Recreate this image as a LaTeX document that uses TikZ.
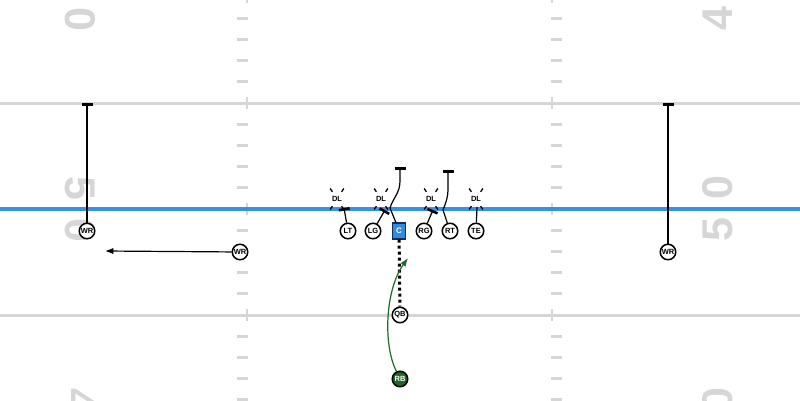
\documentclass[tikz,border=0pt]{standalone}
\usepackage{fontspec}
\setmainfont{Liberation Sans}
\usetikzlibrary{arrows.meta,positioning}
\definecolor{field}{RGB}{214,214,214}
\definecolor{scrim}{RGB}{52,146,235}
\definecolor{cblue}{RGB}{45,140,230}
\definecolor{navy}{RGB}{20,45,90}
\definecolor{rbgreen}{RGB}{30,105,40}
\tikzset{
  player/.style={circle,draw,line width=1.5pt,fill=white,inner sep=0pt,minimum size=15.5pt,
    font=\fontsize{7.5}{7.5}\selectfont\bfseries},
  snapper/.style={rectangle,draw=navy,line width=1.2pt,fill=cblue,text=white,inner sep=0pt,
    minimum width=12.5pt,minimum height=16pt,font=\fontsize{8}{8}\selectfont\bfseries},
  rusher/.style={inner sep=0pt,font=\fontsize{7.5}{7.5}\selectfont\bfseries},
  route/.style={line width=1.2pt},
  block/.style={route,-{Bar[width=11pt,line width=2.6pt]}},
  yardnum/.style={text=field,inner sep=0pt,font=\fontsize{43}{43}\selectfont\bfseries}
}
\begin{document}
\begin{tikzpicture}[>=Latex,x=1pt,y=-1pt]
\useasboundingbox (0,0) rectangle (800,400);
\clip (0,0) rectangle (800,400);
\fill[white] (0,0) rectangle (800,400);
\foreach \y/\d in {-23/4,19/0,188/5,230/0,400/4,442/0}
  \node[yardnum,rotate=-90] at (80,\y) {\d};
\foreach \y/\d in {19/4,-23/0,230/5,188/0,442/4,400/0}
  \node[yardnum,rotate=90] at (718,\y) {\d};
\foreach \y in {-2,103,315,421}
  \draw[field,line width=3pt] (0,\y) -- (800,\y);
\foreach \k in {0,...,20} {
  \pgfmathsetmacro\y{-3+21.2*\k}
  \pgfmathtruncatemacro\m{mod(\k,5)}
  \ifnum\m=0
    \draw[field,line width=2pt] (247,{\y-6}) -- (247,{\y+6}) (552,{\y-6}) -- (552,{\y+6});
  \else
    \draw[field,line width=3pt] (237,\y) -- (248,\y) (551,\y) -- (562,\y);
  \fi
}
\draw[scrim,line width=4pt] (0,209) -- (800,209);

\node[player] (wrL) at (87,231) {WR};
\node[player] (wrS) at (240,252) {WR};
\node[player] (wrR) at (668,252) {WR};
\node[player] (lt) at (348,231) {LT};
\node[player] (lg) at (373,231) {LG};
\node[snapper] (c) at (399,231) {C};
\node[player] (rg) at (424,231) {RG};
\node[player] (rt) at (450,231) {RT};
\node[player] (te) at (476,231) {TE};
\node[player] (qb) at (400,315) {QB};
\node[player,fill=rbgreen,text=white] (rb) at (400,379) {RB};
\foreach \n/\x in {1/337,2/381,3/431,4/476} {
  \node[rusher] (dl\n) at (\x,199) {DL};
  \foreach \a in {57,123,237,303}
    \draw[line width=1.3pt] (dl\n.center) ++(\a:8.5) -- ++(\a:4);
}

\coordinate (wrLend) at (87,103);
\coordinate (wrSend) at (105,251);
\coordinate (wrRend) at (668,103);
\coordinate (ltb) at (344,208);
\coordinate (lgb) at (385,210);
\coordinate (cend) at (400,167);
\coordinate (rgb) at (433,210);
\coordinate (rtend) at (448,170);
\coordinate (teb) at (477,207);
\coordinate (rbend) at (408,258);

\draw[block] (wrL) -- (wrLend);
\draw[route,->] (wrS) -- (wrSend);
\draw[block] (wrR) -- (wrRend);
\draw[block] (lt) -- (ltb);
\draw[block] (lg) -- (lgb);
\draw[block] (c.110) -- (390,208) .. controls (393,198) and (400,193) .. (400,181) -- (cend);
\draw[block] (rg) -- (rgb);
\draw[block] (rt) -- (443,210) .. controls (446,202) and (448,198) .. (448,188) -- (rtend);
\draw[route] (te) -- (teb);
\draw[line width=3pt,dash pattern=on 3pt off 3pt] (c) -- (qb);
\draw[route,rbgreen,->] (rb.115) .. controls (383,345) and (385,290) .. (rbend);
\end{tikzpicture}
\end{document}
